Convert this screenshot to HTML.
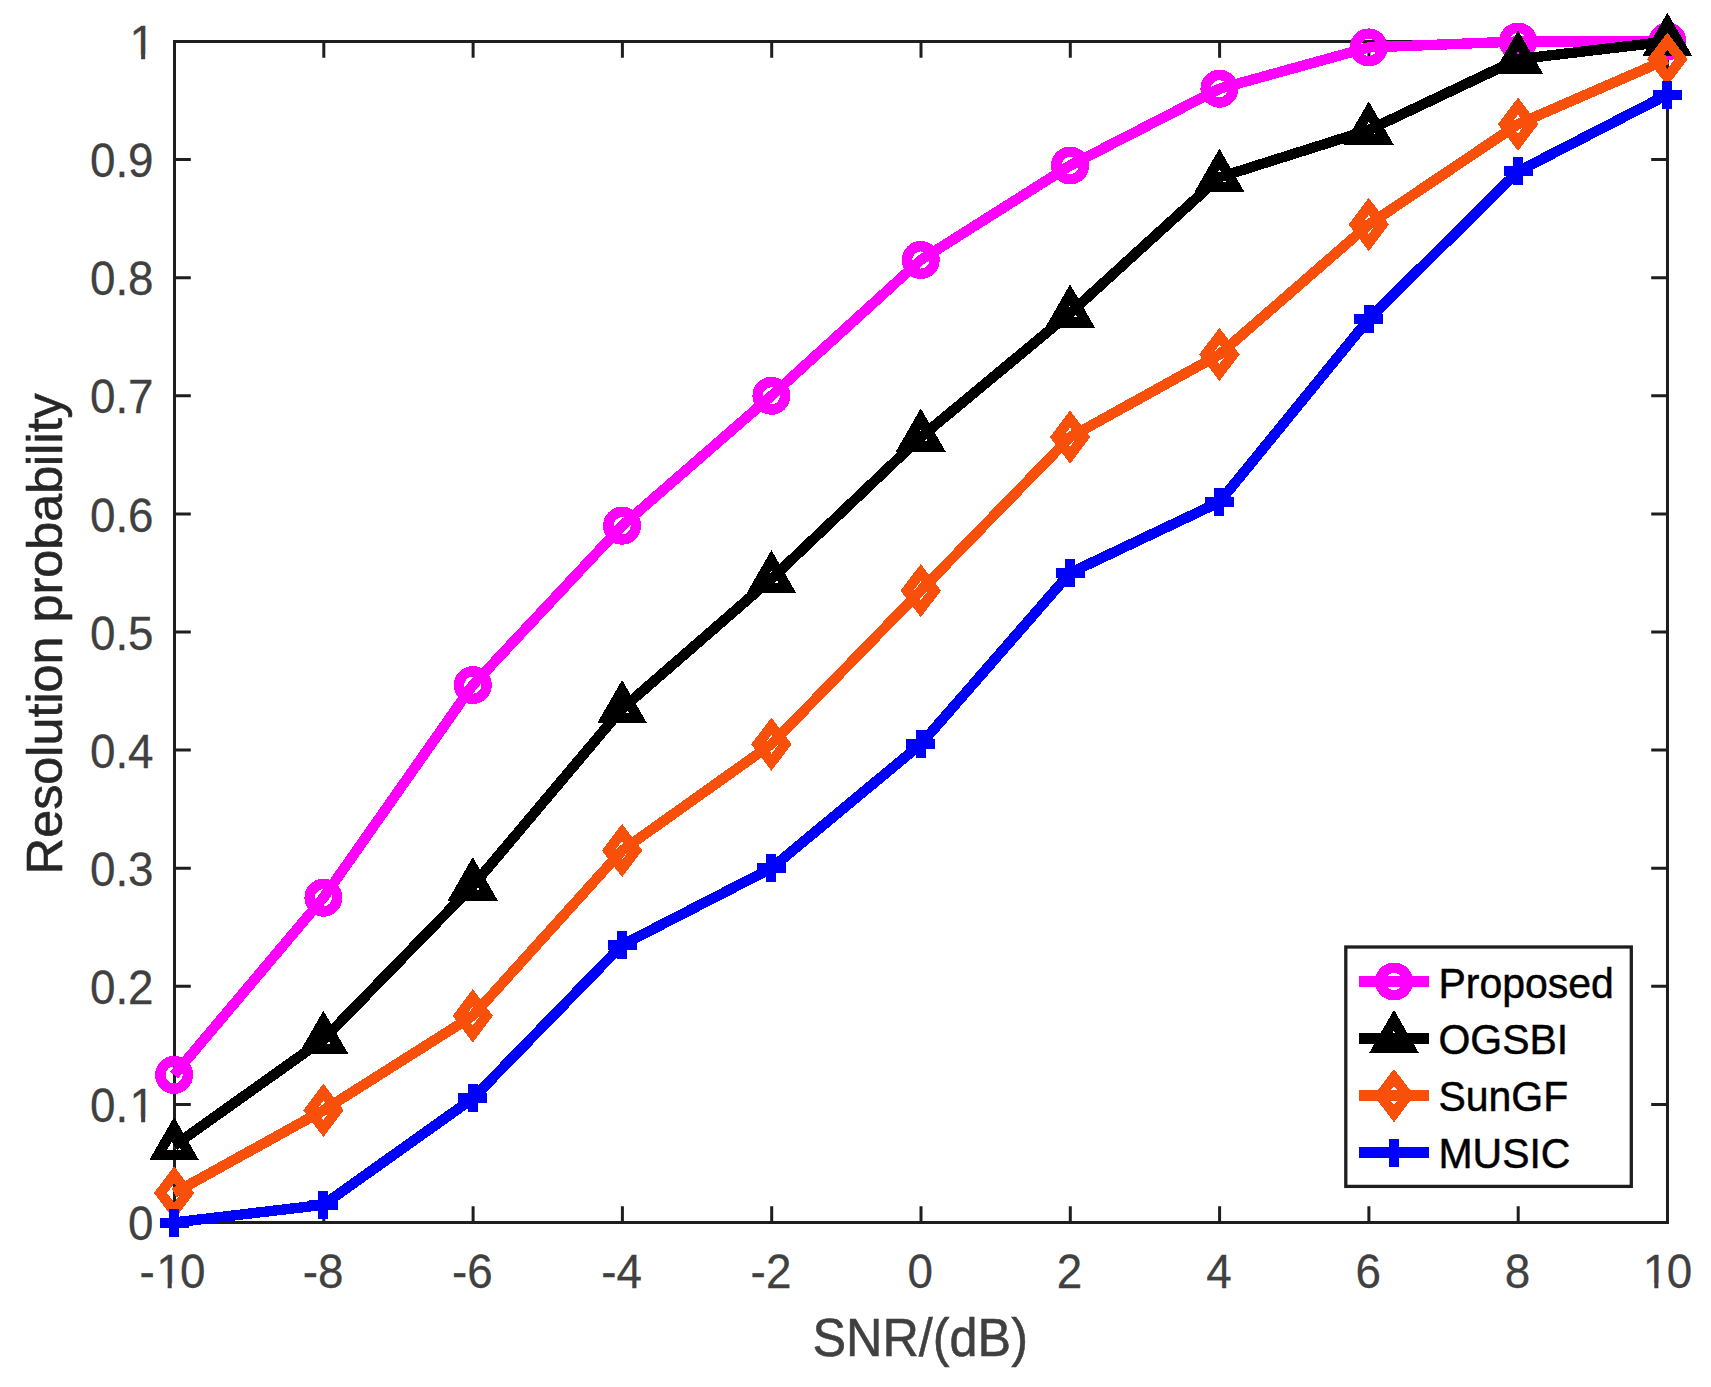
<!DOCTYPE html>
<html lang="en"><head><meta charset="utf-8"><title>Resolution probability versus SNR</title>
<style>html,body{margin:0;padding:0;background:#fff}body{width:1711px;height:1387px;overflow:hidden}svg{display:block}text{font-family:"Liberation Sans",Arial,Helvetica,sans-serif}</style>
</head><body>
<svg width="1711" height="1387" viewBox="0 0 1711 1387">
<rect x="0" y="0" width="1711" height="1387" fill="#fff"/>
<defs><clipPath id="c0" clipPathUnits="userSpaceOnUse"><path clip-rule="evenodd" d="M-400 -400H400V400H-400ZM-14.37 -4.42H-4.83V3H-14.37ZM-0.78 -4.42H8.39V3H-0.78Z"/></clipPath><clipPath id="c1" clipPathUnits="userSpaceOnUse"><path clip-rule="evenodd" d="M-400 -400H400V400H-400ZM-22.00 -4.42H-12.46V3H-22.00ZM-8.41 -4.42H0.76V3H-8.41Z"/></clipPath><clipPath id="c2" clipPathUnits="userSpaceOnUse"><path clip-rule="evenodd" d="M-400 -400H400V400H-400ZM-22.00 -4.42H-12.46V3H-22.00ZM-8.41 -4.42H0.76V3H-8.41Z"/></clipPath><clipPath id="c3" clipPathUnits="userSpaceOnUse"><path clip-rule="evenodd" d="M-400 -400H400V400H-400ZM-22.00 -4.42H-12.46V3H-22.00ZM-8.41 -4.42H0.76V3H-8.41Z"/></clipPath></defs>
<g fill="none" stroke="#1e1e1e" stroke-width="3.0" stroke-linecap="butt">
<rect x="174.5" y="41.5" width="1493.0" height="1181.0"/>
<path d="M174.50 1222.5V1206.2M174.50 41.5V57.8M323.80 1222.5V1206.2M323.80 41.5V57.8M473.10 1222.5V1206.2M473.10 41.5V57.8M622.40 1222.5V1206.2M622.40 41.5V57.8M771.70 1222.5V1206.2M771.70 41.5V57.8M921.00 1222.5V1206.2M921.00 41.5V57.8M1070.30 1222.5V1206.2M1070.30 41.5V57.8M1219.60 1222.5V1206.2M1219.60 41.5V57.8M1368.90 1222.5V1206.2M1368.90 41.5V57.8M1518.20 1222.5V1206.2M1518.20 41.5V57.8M1667.50 1222.5V1206.2M1667.50 41.5V57.8M174.5 1222.50H190.8M1667.5 1222.50H1651.2M174.5 1104.40H190.8M1667.5 1104.40H1651.2M174.5 986.30H190.8M1667.5 986.30H1651.2M174.5 868.20H190.8M1667.5 868.20H1651.2M174.5 750.10H190.8M1667.5 750.10H1651.2M174.5 632.00H190.8M1667.5 632.00H1651.2M174.5 513.90H190.8M1667.5 513.90H1651.2M174.5 395.80H190.8M1667.5 395.80H1651.2M174.5 277.70H190.8M1667.5 277.70H1651.2M174.5 159.60H190.8M1667.5 159.60H1651.2M174.5 41.50H190.8M1667.5 41.50H1651.2"/>
</g>
<g fill="#404040" stroke="#404040" stroke-width="0.25" font-size="45.83px">
<text transform="translate(172.50 1287.70) scale(1 1.03)" x="-33.12 -16.36 7.63" clip-path="url(#c0)">-10</text>
<text transform="translate(323.10 1287.70) scale(1 1.03)" x="-20.38 -5.11">-8</text>
<text transform="translate(472.40 1287.70) scale(1 1.03)" x="-20.38 -5.11">-6</text>
<text transform="translate(621.70 1287.70) scale(1 1.03)" x="-20.38 -5.11">-4</text>
<text transform="translate(771.00 1287.70) scale(1 1.03)" x="-20.38 -5.11">-2</text>
<text transform="translate(920.30 1287.70) scale(1 1.03)" x="-12.74">0</text>
<text transform="translate(1069.60 1287.70) scale(1 1.03)" x="-12.74">2</text>
<text transform="translate(1218.90 1287.70) scale(1 1.03)" x="-12.74">4</text>
<text transform="translate(1368.20 1287.70) scale(1 1.03)" x="-12.74">6</text>
<text transform="translate(1517.50 1287.70) scale(1 1.03)" x="-12.74">8</text>
<text transform="translate(1666.80 1287.70) scale(1 1.03)" x="-23.99 0.00" clip-path="url(#c1)">10</text>
<text transform="translate(153.60 1240.10) scale(1 1.03)" x="-25.49">0</text>
<text transform="translate(153.60 1122.00) scale(1 1.03)" x="-63.71 -38.22 -23.99" clip-path="url(#c2)">0.1</text>
<text transform="translate(153.60 1003.90) scale(1 1.03)" x="-63.71 -38.22 -25.49">0.2</text>
<text transform="translate(153.60 885.80) scale(1 1.03)" x="-63.71 -38.22 -25.49">0.3</text>
<text transform="translate(153.60 767.70) scale(1 1.03)" x="-63.71 -38.22 -25.49">0.4</text>
<text transform="translate(153.60 649.60) scale(1 1.03)" x="-63.71 -38.22 -25.49">0.5</text>
<text transform="translate(153.60 531.50) scale(1 1.03)" x="-63.71 -38.22 -25.49">0.6</text>
<text transform="translate(153.60 413.40) scale(1 1.03)" x="-63.71 -38.22 -25.49">0.7</text>
<text transform="translate(153.60 295.30) scale(1 1.03)" x="-63.71 -38.22 -25.49">0.8</text>
<text transform="translate(153.60 177.20) scale(1 1.03)" x="-63.71 -38.22 -25.49">0.9</text>
<text transform="translate(153.60 59.10) scale(1 1.03)" x="-23.99" clip-path="url(#c3)">1</text>
</g>
<text transform="translate(920.2 1355.9) scale(1 1.05)" text-anchor="middle" font-size="50.4px" fill="#404040" stroke="#404040" stroke-width="0.5">SNR/(dB)</text>
<text transform="translate(62.0 633.7) rotate(-90)" text-anchor="middle" font-size="50.3px" fill="#262626" stroke="#262626" stroke-width="0.6">Resolution probability</text>
<g shape-rendering="crispEdges">
<polyline points="174.10,1074.88 323.43,897.72 472.76,685.14 622.09,525.71 771.42,395.80 920.75,259.99 1070.08,165.50 1219.41,88.74 1368.74,47.40 1518.07,41.50 1667.40,41.50" fill="none" stroke="#FF00FF" stroke-width="10.4" stroke-linejoin="round" stroke-linecap="butt"/>
<circle cx="174.10" cy="1074.88" r="13.8" fill="none" stroke="#FF00FF" stroke-width="10.4"/>
<circle cx="323.43" cy="897.72" r="13.8" fill="none" stroke="#FF00FF" stroke-width="10.4"/>
<circle cx="472.76" cy="685.14" r="13.8" fill="none" stroke="#FF00FF" stroke-width="10.4"/>
<circle cx="622.09" cy="525.71" r="13.8" fill="none" stroke="#FF00FF" stroke-width="10.4"/>
<circle cx="771.42" cy="395.80" r="13.8" fill="none" stroke="#FF00FF" stroke-width="10.4"/>
<circle cx="920.75" cy="259.99" r="13.8" fill="none" stroke="#FF00FF" stroke-width="10.4"/>
<circle cx="1070.08" cy="165.50" r="13.8" fill="none" stroke="#FF00FF" stroke-width="10.4"/>
<circle cx="1219.41" cy="88.74" r="13.8" fill="none" stroke="#FF00FF" stroke-width="10.4"/>
<circle cx="1368.74" cy="47.40" r="13.8" fill="none" stroke="#FF00FF" stroke-width="10.4"/>
<circle cx="1518.07" cy="41.50" r="13.8" fill="none" stroke="#FF00FF" stroke-width="10.4"/>
<circle cx="1667.40" cy="41.50" r="13.8" fill="none" stroke="#FF00FF" stroke-width="10.4"/>
</g>
<g shape-rendering="crispEdges">
<polyline points="174.10,1145.73 323.43,1039.44 472.76,885.91 622.09,708.76 771.42,578.85 920.75,437.13 1070.08,313.13 1219.41,177.32 1368.74,130.08 1518.07,59.21 1667.40,41.50" fill="none" stroke="#000000" stroke-width="10.4" stroke-linejoin="round" stroke-linecap="butt"/>
<polygon points="174.10,1127.33 190.10,1155.13 158.10,1155.13" fill="none" stroke="#000000" stroke-width="10.4" stroke-linejoin="miter" stroke-miterlimit="10"/>
<polygon points="323.43,1021.04 339.43,1048.85 307.43,1048.85" fill="none" stroke="#000000" stroke-width="10.4" stroke-linejoin="miter" stroke-miterlimit="10"/>
<polygon points="472.76,867.51 488.76,895.31 456.76,895.31" fill="none" stroke="#000000" stroke-width="10.4" stroke-linejoin="miter" stroke-miterlimit="10"/>
<polygon points="622.09,690.37 638.09,718.16 606.09,718.16" fill="none" stroke="#000000" stroke-width="10.4" stroke-linejoin="miter" stroke-miterlimit="10"/>
<polygon points="771.42,560.45 787.42,588.25 755.42,588.25" fill="none" stroke="#000000" stroke-width="10.4" stroke-linejoin="miter" stroke-miterlimit="10"/>
<polygon points="920.75,418.74 936.75,446.53 904.75,446.53" fill="none" stroke="#000000" stroke-width="10.4" stroke-linejoin="miter" stroke-miterlimit="10"/>
<polygon points="1070.08,294.73 1086.08,322.53 1054.08,322.53" fill="none" stroke="#000000" stroke-width="10.4" stroke-linejoin="miter" stroke-miterlimit="10"/>
<polygon points="1219.41,158.92 1235.41,186.72 1203.41,186.72" fill="none" stroke="#000000" stroke-width="10.4" stroke-linejoin="miter" stroke-miterlimit="10"/>
<polygon points="1368.74,111.68 1384.74,139.48 1352.74,139.48" fill="none" stroke="#000000" stroke-width="10.4" stroke-linejoin="miter" stroke-miterlimit="10"/>
<polygon points="1518.07,40.81 1534.07,68.61 1502.07,68.61" fill="none" stroke="#000000" stroke-width="10.4" stroke-linejoin="miter" stroke-miterlimit="10"/>
<polygon points="1667.40,23.10 1683.40,50.90 1651.40,50.90" fill="none" stroke="#000000" stroke-width="10.4" stroke-linejoin="miter" stroke-miterlimit="10"/>
</g>
<g shape-rendering="crispEdges">
<polyline points="174.10,1192.97 323.43,1110.31 472.76,1015.83 622.09,850.49 771.42,744.19 920.75,590.66 1070.08,437.13 1219.41,354.47 1368.74,224.56 1518.07,124.17 1667.40,59.21" fill="none" stroke="#F8500A" stroke-width="10.4" stroke-linejoin="round" stroke-linecap="butt"/>
<polygon points="174.10,1174.88 187.80,1192.97 174.10,1211.07 160.40,1192.97" fill="none" stroke="#F8500A" stroke-width="10.4" stroke-linejoin="miter" stroke-miterlimit="10"/>
<polygon points="323.43,1092.21 337.13,1110.31 323.43,1128.40 309.73,1110.31" fill="none" stroke="#F8500A" stroke-width="10.4" stroke-linejoin="miter" stroke-miterlimit="10"/>
<polygon points="472.76,997.73 486.46,1015.83 472.76,1033.92 459.06,1015.83" fill="none" stroke="#F8500A" stroke-width="10.4" stroke-linejoin="miter" stroke-miterlimit="10"/>
<polygon points="622.09,832.38 635.79,850.49 622.09,868.59 608.39,850.49" fill="none" stroke="#F8500A" stroke-width="10.4" stroke-linejoin="miter" stroke-miterlimit="10"/>
<polygon points="771.42,726.09 785.12,744.19 771.42,762.29 757.72,744.19" fill="none" stroke="#F8500A" stroke-width="10.4" stroke-linejoin="miter" stroke-miterlimit="10"/>
<polygon points="920.75,572.56 934.45,590.66 920.75,608.76 907.05,590.66" fill="none" stroke="#F8500A" stroke-width="10.4" stroke-linejoin="miter" stroke-miterlimit="10"/>
<polygon points="1070.08,419.03 1083.78,437.13 1070.08,455.24 1056.38,437.13" fill="none" stroke="#F8500A" stroke-width="10.4" stroke-linejoin="miter" stroke-miterlimit="10"/>
<polygon points="1219.41,336.37 1233.11,354.47 1219.41,372.57 1205.71,354.47" fill="none" stroke="#F8500A" stroke-width="10.4" stroke-linejoin="miter" stroke-miterlimit="10"/>
<polygon points="1368.74,206.46 1382.44,224.56 1368.74,242.66 1355.04,224.56" fill="none" stroke="#F8500A" stroke-width="10.4" stroke-linejoin="miter" stroke-miterlimit="10"/>
<polygon points="1518.07,106.07 1531.77,124.17 1518.07,142.27 1504.37,124.17" fill="none" stroke="#F8500A" stroke-width="10.4" stroke-linejoin="miter" stroke-miterlimit="10"/>
<polygon points="1667.40,41.11 1681.10,59.21 1667.40,77.31 1653.70,59.21" fill="none" stroke="#F8500A" stroke-width="10.4" stroke-linejoin="miter" stroke-miterlimit="10"/>
</g>
<g shape-rendering="crispEdges">
<polyline points="174.10,1222.50 323.43,1204.79 472.76,1098.49 622.09,944.97 771.42,868.20 920.75,744.19 1070.08,572.95 1219.41,502.09 1368.74,319.03 1518.07,171.41 1667.40,94.64" fill="none" stroke="#0000FF" stroke-width="10.4" stroke-linejoin="round" stroke-linecap="butt"/>
<path d="M159.60 1222.50H188.60M174.10 1208.50V1236.50" fill="none" stroke="#0000FF" stroke-width="10.0"/>
<path d="M308.93 1204.79H337.93M323.43 1190.79V1218.79" fill="none" stroke="#0000FF" stroke-width="10.0"/>
<path d="M458.26 1098.49H487.26M472.76 1084.49V1112.49" fill="none" stroke="#0000FF" stroke-width="10.0"/>
<path d="M607.59 944.97H636.59M622.09 930.97V958.97" fill="none" stroke="#0000FF" stroke-width="10.0"/>
<path d="M756.92 868.20H785.92M771.42 854.20V882.20" fill="none" stroke="#0000FF" stroke-width="10.0"/>
<path d="M906.25 744.19H935.25M920.75 730.19V758.19" fill="none" stroke="#0000FF" stroke-width="10.0"/>
<path d="M1055.58 572.95H1084.58M1070.08 558.95V586.95" fill="none" stroke="#0000FF" stroke-width="10.0"/>
<path d="M1204.91 502.09H1233.91M1219.41 488.09V516.09" fill="none" stroke="#0000FF" stroke-width="10.0"/>
<path d="M1354.24 319.03H1383.24M1368.74 305.03V333.03" fill="none" stroke="#0000FF" stroke-width="10.0"/>
<path d="M1503.57 171.41H1532.57M1518.07 157.41V185.41" fill="none" stroke="#0000FF" stroke-width="10.0"/>
<path d="M1652.90 94.64H1681.90M1667.40 80.64V108.64" fill="none" stroke="#0000FF" stroke-width="10.0"/>
</g>
<rect x="1345.8" y="947.0" width="285.50" height="239.40" fill="#fff" stroke="#1e1e1e" stroke-width="3.3"/>
<g shape-rendering="crispEdges">
<path d="M1359 981.5H1429" fill="none" stroke="#FF00FF" stroke-width="10.4"/>
<circle cx="1394.00" cy="981.50" r="13.8" fill="none" stroke="#FF00FF" stroke-width="10.4"/>
</g>
<text transform="translate(1438.4 997.7) scale(1 1.03)" font-size="41.0px" fill="#000" stroke="#000" stroke-width="0.45">Proposed</text>
<g shape-rendering="crispEdges">
<path d="M1359 1038.6H1429" fill="none" stroke="#000000" stroke-width="10.4"/>
<polygon points="1394.00,1020.20 1410.00,1048.00 1378.00,1048.00" fill="none" stroke="#000000" stroke-width="10.4" stroke-linejoin="miter" stroke-miterlimit="10"/>
</g>
<text transform="translate(1438.4 1054.3) scale(1 1.03)" font-size="41.0px" fill="#000" stroke="#000" stroke-width="0.45">OGSBI</text>
<g shape-rendering="crispEdges">
<path d="M1359 1095.6H1429" fill="none" stroke="#F8500A" stroke-width="10.4"/>
<polygon points="1394.00,1077.50 1407.70,1095.60 1394.00,1113.70 1380.30,1095.60" fill="none" stroke="#F8500A" stroke-width="10.4" stroke-linejoin="miter" stroke-miterlimit="10"/>
</g>
<text transform="translate(1438.4 1111.0) scale(1 1.03)" font-size="41.0px" fill="#000" stroke="#000" stroke-width="0.45">SunGF</text>
<g shape-rendering="crispEdges">
<path d="M1359 1152.5H1429" fill="none" stroke="#0000FF" stroke-width="10.4"/>
<path d="M1379.50 1152.50H1408.50M1394.00 1138.50V1166.50" fill="none" stroke="#0000FF" stroke-width="10.0"/>
</g>
<text transform="translate(1438.4 1168.4) scale(1 1.03)" font-size="41.0px" fill="#000" stroke="#000" stroke-width="0.45">MUSIC</text>
</svg>
</body></html>
